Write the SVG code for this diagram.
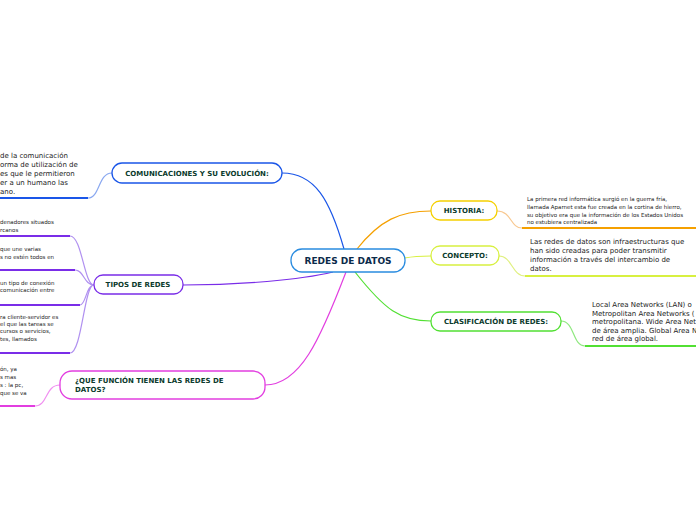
<svg xmlns="http://www.w3.org/2000/svg" width="696" height="520" viewBox="0 0 696 520">
<style>
text{font-family:Verdana,"DejaVu Sans",sans-serif;}
.n{fill:#fff;stroke-width:1.3;}
.l{font-weight:bold;fill:#0b3a2c;font-size:7px;}
.t{fill:#222;font-size:7px;}
.s{fill:#222;font-size:5.5px;}
.c{fill:none;stroke-width:1.2;}
.u{fill:none;stroke-width:2;}
</style>
<rect width="696" height="520" fill="#fff"/>
<g id="connectors">
<path class="c" stroke="#1a56e8" d="M344,249 C330,200 315,173 282,173"/>
<path class="c" stroke="#7a2de8" d="M333,272 C300,280 240,285 183,285"/>
<path class="c" stroke="#e23ee0" d="M346,272 C320,340 300,385 265,385"/>
<path class="c" stroke="#f5a000" d="M357,249 C380,220 400,211 431,211"/>
<path class="c" stroke="#d8f040" d="M405,258 C415,256 420,256 431,256"/>
<path class="c" stroke="#52e033" d="M355,272 C385,310 400,321 431,321"/>
<path class="c" stroke="#8aa8f0" d="M112,173 C98,173 100,198 88,198"/>
<path class="u" stroke="#1a56e8" d="M0,198 H88"/>
<path class="c" stroke="#b090f0" d="M94,285 C84,285 82,236 70,236 M94,285 C84,285 84,270 75,270 M94,285 C86,285 86,305 80,305 M94,285 C84,285 82,353 70,353"/>
<path class="u" stroke="#7a2de8" d="M0,236 H70 M0,270 H75 M0,305 H80 M0,353 H70"/>
<path class="c" stroke="#f090f0" d="M60,385 C45,385 48,406 35,406"/>
<path class="u" stroke="#e23ee0" d="M0,406 H35"/>
<path class="c" stroke="#f8c890" d="M497,211 C512,211 510,228 522,228"/>
<path class="u" stroke="#f5a000" d="M522,228 H696"/>
<path class="c" stroke="#e0f080" d="M499,256 C512,256 512,276 525,276"/>
<path class="u" stroke="#d8f040" d="M525,276 H696"/>
<path class="c" stroke="#90e880" d="M561,321 C575,321 572,346 585,346"/>
<path class="u" stroke="#52e033" d="M585,346 H696"/>
</g>
<g id="center"><rect class="n" stroke="#2a8ce0" x="291" y="249" width="114" height="23" rx="11"/><text x="348" y="264" text-anchor="middle" font-weight="bold" font-size="9" fill="#0b2a4a">REDES DE DATOS</text></g>
<g id="comunicaciones"><rect class="n" stroke="#1a56e8" x="112" y="163" width="170" height="20" rx="10"/><text class="l" x="197" y="176" text-anchor="middle">COMUNICACIONES Y SU EVOLUCIÓN:</text>
<text class="t"><tspan x="0" y="158">de la comunicación</tspan><tspan x="0" y="167">orma de utilización de</tspan><tspan x="0" y="176">es que le permitieron</tspan><tspan x="0" y="185">er a un humano las</tspan><tspan x="0" y="194">ano.</tspan></text></g>
<g id="tipos"><rect class="n" stroke="#7a2de8" x="94" y="275" width="89" height="19" rx="9"/><text class="l" x="138" y="287" text-anchor="middle">TIPOS DE REDES</text>
<text class="s"><tspan x="0" y="224">denadores situados</tspan><tspan x="0" y="232">rcanos</tspan><tspan x="0" y="251">que une varias</tspan><tspan x="0" y="259">s no estén todos en</tspan><tspan x="0" y="285">un tipo de conexión</tspan><tspan x="0" y="292">comunicación entre</tspan><tspan x="0" y="319">ra cliente-servidor es</tspan><tspan x="0" y="326">el que las tareas se</tspan><tspan x="0" y="333">cursos o servicios,</tspan><tspan x="0" y="341">tes, llamados</tspan></text></g>
<g id="funcion"><rect class="n" stroke="#e23ee0" x="60" y="371" width="205" height="28" rx="12"/><text class="l"><tspan x="75" y="383">¿QUE FUNCIÓN TIENEN LAS REDES DE</tspan><tspan x="75" y="392">DATOS?</tspan></text>
<text class="s"><tspan x="0" y="371">ón, ya</tspan><tspan x="0" y="379">s mas</tspan><tspan x="0" y="387">s : la pc,</tspan><tspan x="0" y="395">que se va</tspan></text></g>
<g id="historia"><rect class="n" stroke="#f5d000" x="431" y="201" width="66" height="19" rx="9"/><text class="l" x="464" y="213" text-anchor="middle">HISTORIA:</text>
<text class="s"><tspan x="527" y="201">La primera red informática surgió en la guerra fría,</tspan><tspan x="527" y="209">llamada Aparnet esta fue creada en la cortina de hierro,</tspan><tspan x="527" y="217">su objetivo era que la información de los Estados Unidos</tspan><tspan x="527" y="224">no estubiera centralizada</tspan></text></g>
<g id="concepto"><rect class="n" stroke="#d8f040" x="431" y="246" width="68" height="19" rx="9"/><text class="l" x="465" y="258" text-anchor="middle">CONCEPTO:</text>
<text class="t" font-size="7.5"><tspan x="530" y="244">Las redes de datos son infraestructuras que</tspan><tspan x="530" y="253">han sido creadas para poder transmitir</tspan><tspan x="530" y="262">información a través del intercambio de</tspan><tspan x="530" y="271">datos.</tspan></text></g>
<g id="clasificacion"><rect class="n" stroke="#52e033" x="431" y="312" width="130" height="19" rx="9"/><text class="l" x="496" y="324" text-anchor="middle">CLASIFICACIÓN DE REDES:</text>
<text class="t"><tspan x="592" y="307">Local Area Networks (LAN) o</tspan><tspan x="592" y="316">Metropolitan Area Networks (</tspan><tspan x="592" y="324">metropolitana. Wide Area Net</tspan><tspan x="592" y="333">de área amplia. Global Area N</tspan><tspan x="592" y="341">red de área global.</tspan></text></g>
</svg>
